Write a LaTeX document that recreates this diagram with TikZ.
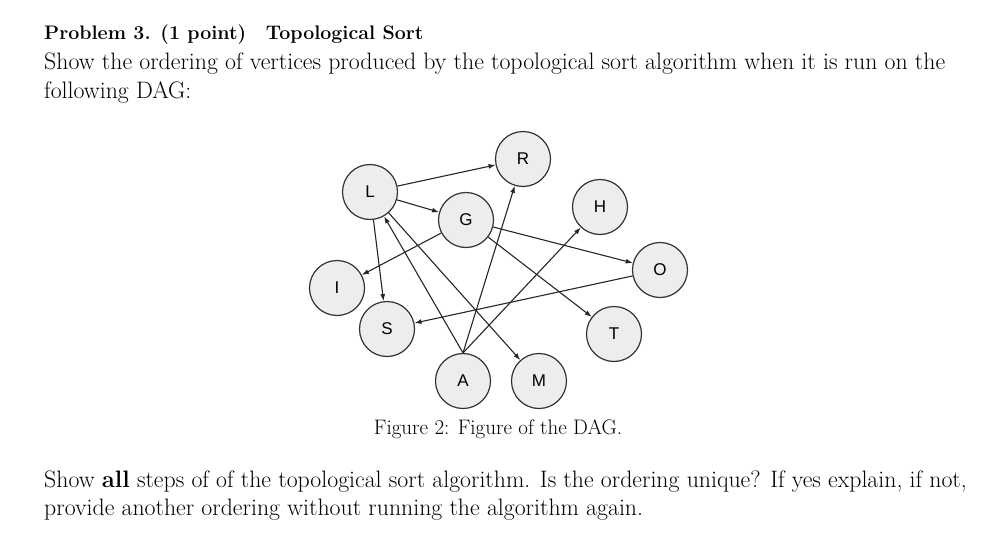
\documentclass[tikz,border=0pt]{standalone}
\usepackage{fontspec}
\newfontfamily\lsans{Liberation Sans}
\usetikzlibrary{arrows.meta}
\begin{document}
\begin{tikzpicture}[x=1pt,y=-1pt,
  v/.style={circle,draw=black!80,line width=1.2pt,fill=black!7,minimum size=55pt,inner sep=0pt,font=\lsans\fontsize{17}{17}\selectfont},
  e/.style={-{Latex[length=7pt,width=5pt]},line width=1.1pt,black!85},
  txt/.style={anchor=base west,inner sep=0pt,font=\fontsize{23.8}{26}\selectfont}]
\useasboundingbox (0,0) rectangle (1000,535);
\node[txt,font=\fontsize{19.6}{22}\selectfont] (t1) at (44,40) {\textbf{Problem 3. (1 point)}\quad \textbf{Topological Sort}};
\node[txt] (t2) at (44,69) {Show the ordering of vertices produced by the topological sort algorithm when it is run on the};
\node[txt] (t3) at (44,98) {following DAG:};
\node[v] (L) at (370,192) {L};
\node[v] (R) at (523,159) {R};
\node[v] (G) at (466,220) {G};
\node[v] (H) at (600,207) {H};
\node[v] (O) at (660,270) {O};
\node[v] (I) at (337,288) {I};
\node[v] (S) at (387,329) {S};
\node[v] (T) at (614,334) {T};
\node[v] (A) at (463,381) {A};
\node[v] (M) at (539,381) {M};
\draw[e] (L) -- (R);
\draw[e] (L) -- (G);
\draw[e] (L) -- (S);
\draw[e] (L) -- (M);
\draw[e] (G) -- (I);
\draw[e] (G) -- (O);
\draw[e] (G) -- (T);
\draw[e] (A.north) -- (L);
\draw[e] (A.north) -- (R);
\draw[e] (A.north) -- (H);
\draw[e] (O) -- (S);
\node[txt,anchor=base,font=\fontsize{21}{24}\selectfont] (cap) at (498,434) {Figure 2: Figure of the DAG.};
\node[txt] (b1) at (44,487) {Show \textbf{all} steps of of the topological sort algorithm. Is the ordering unique? If yes explain, if not,};
\node[txt] (b2) at (44,515) {provide another ordering without running the algorithm again.};
\end{tikzpicture}
\end{document}
